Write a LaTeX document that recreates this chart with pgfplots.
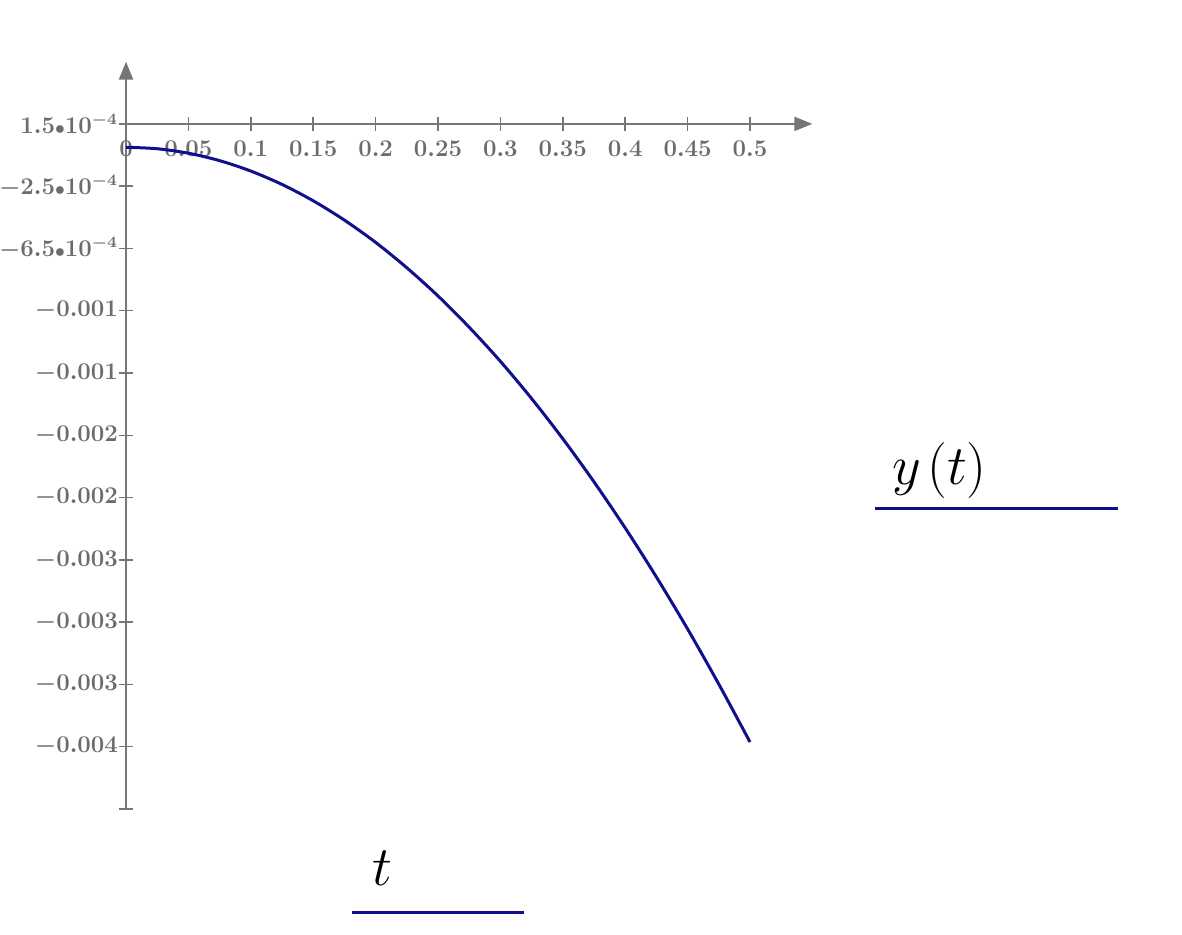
\documentclass[border=0pt]{standalone}
\usepackage{graphicx}
\usepackage{pgfplots}
\usepackage{pgfplotstable}
\pgfplotsset{compat=1.18}
\usetikzlibrary{arrows.meta}
\definecolor{curve}{RGB}{16,16,140}
\definecolor{axgray}{RGB}{118,118,118}
\definecolor{labgray}{RGB}{108,108,108}
\pgfplotstableread{
t y
0 0
0.025 -0.00000955
0.05 -0.0000382
0.075 -0.000086
0.1 -0.0001528
0.125 -0.0002388
0.15 -0.0003438
0.175 -0.000468
0.2 -0.000611
0.225 -0.000774
0.25 -0.000955
0.275 -0.001156
0.3 -0.001375
0.325 -0.001614
0.35 -0.001872
0.375 -0.002149
0.4 -0.002445
0.425 -0.002760
0.45 -0.003094
0.475 -0.003448
0.5 -0.00382
}\datatable
\begin{document}
\begin{tikzpicture}
\useasboundingbox (0,0) rectangle (591pt,467pt);
\begin{axis}[
  at={(63pt,62.5pt)}, anchor=south west,
  scale only axis, width=343.2pt, height=373.7pt,
  xmin=0, xmax=0.55, ymin=-0.0044, ymax=0.0004,
  axis lines=middle,
  axis line style={draw=axgray, line width=1pt, -{Triangle[width=7pt,length=9pt]}},
  tick style={draw=axgray, line width=0.75pt},
  major tick length=7pt, tick align=center,
  scaled y ticks=false, scaled x ticks=false,
  hide obscured x ticks=false, hide obscured y ticks=false,
  xtick={0,0.05,0.1,0.15,0.2,0.25,0.3,0.35,0.4,0.45,0.5},
  xticklabels={$0$,$0.05$,$0.1$,$0.15$,$0.2$,$0.25$,$0.3$,$0.35$,$0.4$,$0.45$,$0.5$},
  ytick={0,-0.0004,-0.0008,-0.0012,-0.0016,-0.002,-0.0024,-0.0028,-0.0032,-0.0036,-0.004,-0.0044},
  yticklabels={{$1.5{\scriptstyle\bullet}10^{-4}$},{$-2.5{\scriptstyle\bullet}10^{-4}$},{$-6.5{\scriptstyle\bullet}10^{-4}$},$-0.001$,$-0.001$,$-0.002$,$-0.002$,$-0.003$,$-0.003$,$-0.003$,$-0.004$,{}},
  xticklabel style={font=\fontsize{11.7}{14}\selectfont\boldmath, text=labgray, anchor=north, inner sep=0pt, yshift=-5pt},
  yticklabel style={font=\fontsize{12}{14}\selectfont\boldmath, text=labgray, anchor=east, inner sep=0pt, xshift=-0.3pt},
  clip=false,
]
\addplot[curve, line width=1.5pt, smooth] table[x=t, y expr=\thisrow{y}-0.00015] {\datatable};
\end{axis}
\node[anchor=base west, inner sep=0pt] at (446pt,225pt) {\scalebox{1.125}{\fontsize{24.88}{30}\selectfont $y\kern3pt(t\kern-0.6pt)$}};
\node[anchor=base west, inner sep=0pt] at (185.8pt,24.5pt) {\scalebox{1.125}{\fontsize{24.88}{30}\selectfont $t$}};
\draw[curve, line width=1.5pt] (437.5pt,213pt) -- (559pt,213pt);
\draw[curve, line width=1.5pt] (176pt,11pt) -- (262pt,11pt);
\end{tikzpicture}
\end{document}
